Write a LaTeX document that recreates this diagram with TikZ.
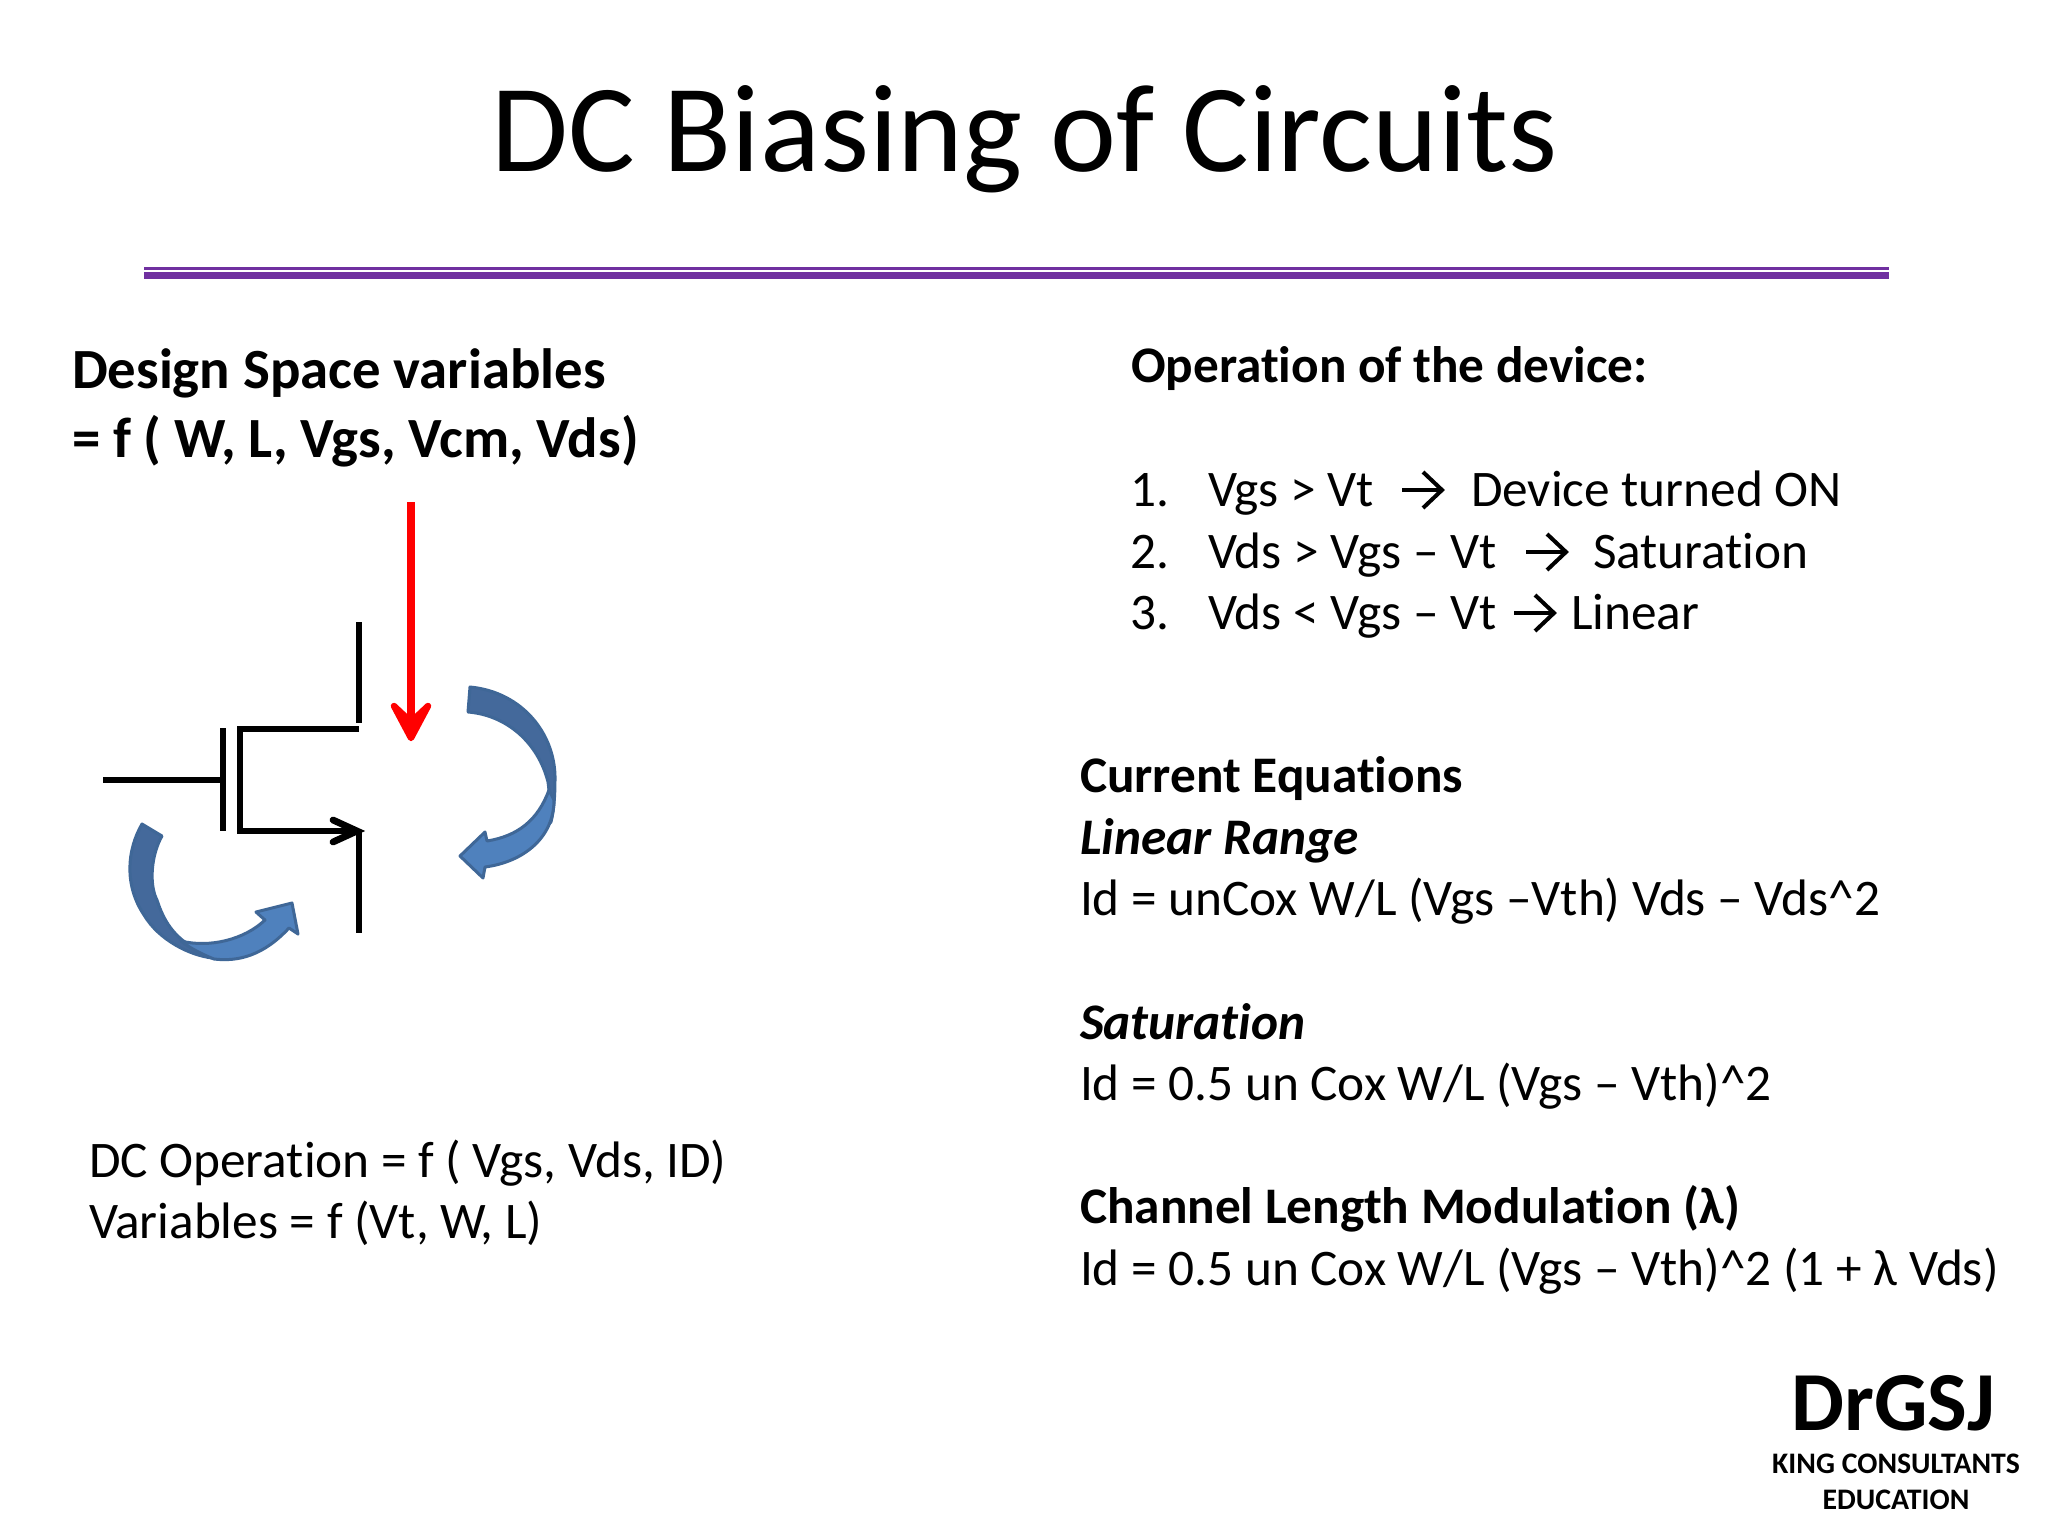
\documentclass[tikz,border=0pt]{standalone}
\usepackage{fontspec}
\setmainfont{Carlito}[Ligatures=NoCommon]
\definecolor{rulepurple}{HTML}{7030A0}
\definecolor{bluedark}{HTML}{44699B}
\definecolor{bluelight}{HTML}{4F81BD}
\definecolor{blueedge}{HTML}{3F6797}
\newcommand{\bodyfs}{\fontsize{25.65}{30}\selectfont}
\begin{document}
\begin{tikzpicture}[x=0.5pt,y=-0.5pt,
  txt/.style={anchor=base west,inner sep=0pt,outer sep=0pt,text=black,font=\bodyfs},
  bodyb/.style={txt,font=\bodyfs\bfseries},
  bodybi/.style={txt,font=\bodyfs\bfseries\itshape},
  headb/.style={txt,font=\fontsize{28.4}{34}\selectfont\bfseries},
  logo/.style={anchor=base,inner sep=0pt,outer sep=0pt,font=\fontsize{14.9}{20}\selectfont\bfseries},
  wire/.style={line width=3.4pt,black},
  glypharrow/.style={line width=2pt,black},
  curved/.style={draw=blueedge,line width=1.5pt,line join=round}]
\useasboundingbox (0,0) rectangle (2048,1536);
\fill[white] (0,0) rectangle (2048,1536);

% title and rule
\node[anchor=base,inner sep=0pt,font=\fontsize{62.5}{70}\selectfont] (title) at (1025,171) {DC Biasing of Circuits};
\fill[rulepurple] (144,267) rectangle (1889,270);
\fill[rulepurple] (144,272) rectangle (1889,279);

% left heading
\node[headb] (ds1) at (72,388) {Design Space variables};
\node[headb] (ds2) at (72,457) {= f ( W, L, Vgs, Vcm, Vds)};

% transistor
\coordinate (dtop) at (359,622);
\coordinate (dbot) at (359,723);
\coordinate (chtop) at (240,729);
\coordinate (dcorner) at (359,729);
\coordinate (chbot) at (240,831);
\coordinate (scorner) at (357,831);
\coordinate (stop) at (359,831);
\coordinate (sbot) at (359,933);
\coordinate (gtop) at (223,728);
\coordinate (gbot) at (223,831);
\coordinate (lead) at (103,780);
\coordinate (leadend) at (220,780);
\coordinate (wingA) at (333,820);
\coordinate (wingB) at (333,842);
\draw[wire] (dtop) -- (dbot);
\draw[wire,line join=miter] (dcorner) -- (chtop) -- (chbot) -- (scorner);
\draw[wire] (gtop) -- (gbot);
\draw[wire] (lead) -- (leadend);
\draw[wire] (stop) -- (sbot);
\draw[wire,line cap=round,line join=miter] (wingA) -- (scorner) -- (wingB);

% red arrow
\coordinate (rtop) at (411,502);
\coordinate (rneck) at (411,725);
\draw[red,line width=4.2pt] (rtop) -- (rneck);
\fill[red,draw=red,line width=3.2pt,line join=round] (394,706) -- (411,738) -- (428,706) -- (411,722) -- cycle;

% right curved arrow
\begin{scope}[xshift=-1pt]
\path[curved,fill=bluedark] (472,687) .. controls (525,692) and (558,735) .. (557,780)
  .. controls (557,795) and (556,810) .. (553,822) -- (545,830)
  .. controls (552,812) and (552,795) .. (550,782)
  .. controls (540,742) and (508,715) .. (470,712) -- cycle;
\path[curved,fill=bluelight] (556,800) .. controls (556,838) and (525,862) .. (487,867)
  -- (485,878) -- (462,856) -- (487,832) -- (489,841)
  .. controls (520,836) and (540,820) .. (551,790) -- cycle;
\end{scope}

% left curved arrow
\begin{scope}[xshift=-0.5pt]
\path[curved,fill=bluedark] (143,824) -- (163,836)
  .. controls (152,855) and (150,885) .. (158,900)
  .. controls (165,922) and (175,935) .. (190,945)
  -- (213,958) .. controls (190,955) and (160,940) .. (145,915)
  .. controls (125,885) and (128,850) .. (143,824) -- cycle;
\path[curved,fill=bluelight] (182,941) .. controls (210,948) and (245,940) .. (266,920)
  -- (257,912) -- (293,903) -- (299,934) -- (290,928)
  .. controls (265,955) and (240,962) .. (215,959)
  .. controls (205,955) and (192,949) .. (182,941) -- cycle;
\end{scope}

% left bottom
\node[txt] (dc1) at (89,1177) {DC Operation = f ( Vgs, Vds, ID)};
\node[txt] (dc2) at (89,1238) {Variables = f (Vt, W, L)};

% operation list
\node[bodyb] (op) at (1131,382) {Operation of the device:};
\node[txt] (n1) at (1130,506) {1.};
\node[txt] (n2) at (1130,568) {2.};
\node[txt] (n3) at (1130,629) {3.};
\node[txt] (i1) at (1208,506) {Vgs > Vt};
\node[txt] (i2) at (1208,568) {Vds > Vgs – Vt};
\node[txt] (i3) at (1208,629) {Vds < Vgs – Vt};
\node[txt] (r1) at (1471,506) {Device turned ON};
\node[txt] (r2) at (1593,568) {Saturation};
\node[txt] (r3) at (1571,629) {Linear};
% inline arrows
\foreach \xa/\xb/\yy in {1402/1442/490, 1526/1566/552, 1514/1554/613}{
  \draw[glypharrow] (\xa,\yy) -- (\xb,\yy);
  \draw[glypharrow,line join=miter] (\xb-19,\yy-18) -- (\xb,\yy) -- (\xb-19,\yy+18);
}

% equations
\node[bodyb] (ce) at (1080,792) {Current Equations};
\node[bodybi] (lr) at (1080,854) {Linear Range};
\node[txt] (e1) at (1080,915) {Id = unCox W/L (Vgs –Vth) Vds – Vds\char`\^2};
\node[bodybi] (sa) at (1080,1039) {Saturation};
\node[txt] (e2) at (1080,1100) {Id = 0.5 un Cox W/L (Vgs – Vth)\char`\^2};
\node[bodyb] (cl) at (1080,1223) {Channel Length Modulation (λ)};
\node[txt] (e3) at (1080,1285) {Id = 0.5 un Cox W/L (Vgs – Vth)\char`\^2 (1 + λ Vds)};

% logo
\node[logo,font=\fontsize{42}{48}\selectfont\bfseries] (drg) at (1893,1430) {DrGSJ};
\node[logo] (king) at (1896,1473) {KING CONSULTANTS};
\node[logo] (edu) at (1896,1509) {EDUCATION};
\end{tikzpicture}
\end{document}
